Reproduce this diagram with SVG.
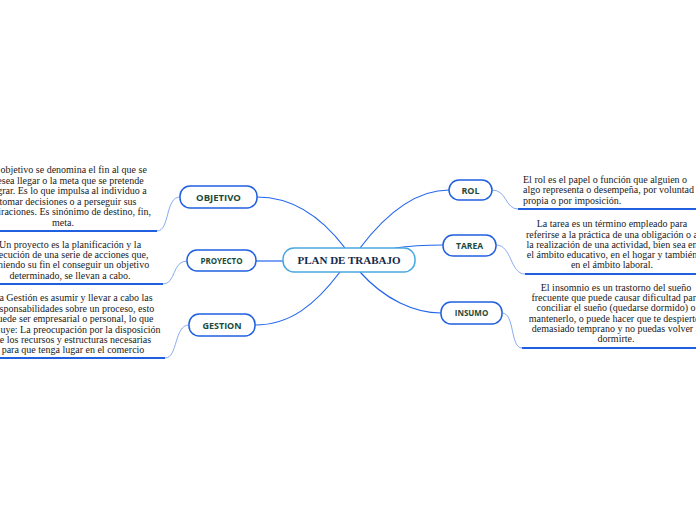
<svg xmlns="http://www.w3.org/2000/svg" width="696" height="520" viewBox="0 0 696 520">
<style>
.n{fill:#fff;stroke:#1f5fe0;stroke-width:1.5}
.nl{font-family:"Open Sans",sans-serif;font-weight:bold;fill:#1d4a3a;text-anchor:middle}
.t{font-family:"Liberation Serif",serif;font-size:10px;fill:#222}
.c{fill:none;stroke:#2266ee;stroke-width:1.2}
.s{fill:none;stroke:#88aaf0;stroke-width:1}
.u{stroke:#1f5fe0;stroke-width:2}
</style>
<rect width="696" height="520" fill="#fff"/>
<g id="connectors">
<path class="c" d="M345 248 C320 215 290 197 257 197"/>
<path class="c" d="M283 261 L256 261"/>
<path class="c" d="M340 272 C315 305 290 325 255 325"/>
<path class="c" d="M360 248 C385 215 415 190 449 190"/>
<path class="c" d="M395 248 C415 245 430 245 443 245"/>
<path class="c" d="M360 272 C385 300 415 313 441 313"/>
<path class="s" d="M180 197 C165 197 170 231 157 231"/>
<path class="s" d="M187 261 C172 261 176 284 163 284"/>
<path class="s" d="M189 325 C174 325 178 358 165 358"/>
<path class="s" d="M492 190 C507 190 505 209 518 209"/>
<path class="s" d="M496 245 C512 245 510 274 525 274"/>
<path class="s" d="M502 313 C515 313 510 348 522 348"/>
<line class="u" x1="0" y1="231" x2="157" y2="231"/>
<line class="u" x1="0" y1="284" x2="163" y2="284"/>
<line class="u" x1="0" y1="358" x2="165" y2="358"/>
<line class="u" x1="518" y1="209" x2="696" y2="209"/>
<line class="u" x1="525" y1="274" x2="696" y2="274"/>
<line class="u" x1="522" y1="348" x2="696" y2="348"/>
</g>
<g id="center"><rect x="283" y="248" width="132" height="24" rx="11" fill="#fff" stroke="#4aa8e0" stroke-width="1.5"/><text x="349" y="264" text-anchor="middle" font-family="Liberation Serif,serif" font-weight="bold" font-size="11" fill="#132a4a">PLAN DE TRABAJO</text></g>
<g id="objetivo"><rect class="n" x="180" y="186" width="77" height="22" rx="10"/><text class="nl" x="218.5" y="201" font-size="9.5">OBJETIVO</text></g>
<g id="proyecto"><rect class="n" x="187" y="250" width="69" height="21" rx="10"/><text class="nl" x="221.5" y="264" font-size="8">PROYECTO</text></g>
<g id="gestion"><rect class="n" x="189" y="314" width="66" height="22" rx="10"/><text class="nl" x="222" y="328.5" font-size="9">GESTION</text></g>
<g id="rol"><rect class="n" x="449" y="180" width="43" height="20" rx="10"/><text class="nl" x="470.5" y="193.5" font-size="9">ROL</text></g>
<g id="tarea"><rect class="n" x="443" y="235" width="53" height="21" rx="10"/><text class="nl" x="469.5" y="248.5" font-size="8.5">TAREA</text></g>
<g id="insumo"><rect class="n" x="441" y="302" width="61" height="22" rx="10"/><text class="nl" x="471.5" y="316" font-size="8">INSUMO</text></g>
<g id="texts">
<text class="t" text-anchor="middle"><tspan x="68" y="173">El objetivo se denomina el fin al que se</tspan><tspan x="68" y="184">desea llegar o la meta que se pretende</tspan><tspan x="68" y="194">lograr. Es lo que impulsa al individuo a</tspan><tspan x="68" y="205">tomar decisiones o a perseguir sus</tspan><tspan x="68" y="215">aspiraciones. Es sinónimo de destino, fin,</tspan><tspan x="63" y="226">meta.</tspan></text>
<text class="t" text-anchor="middle"><tspan x="70" y="248">Un proyecto es la planificación y la</tspan><tspan x="70" y="258">ejecución de una serie de acciones que,</tspan><tspan x="70" y="268">teniendo su fin el conseguir un objetivo</tspan><tspan x="70" y="279">determinado, se llevan a cabo.</tspan></text>
<text class="t" text-anchor="middle"><tspan x="73" y="301">La Gestión es asumir y llevar a cabo las</tspan><tspan x="73" y="312">responsabilidades sobre un proceso, esto</tspan><tspan x="73" y="322">puede ser empresarial o personal, lo que</tspan><tspan x="73" y="333">incluye: La preocupación por la disposición</tspan><tspan x="73" y="343">de los recursos y estructuras necesarias</tspan><tspan x="73" y="353">para que tenga lugar en el comercio</tspan></text>
<text class="t"><tspan x="523" y="183">El rol es el papel o función que alguien o</tspan><tspan x="523" y="193">algo representa o desempeña, por voluntad</tspan><tspan x="523" y="204">propia o por imposición.</tspan></text>
<text class="t" text-anchor="middle"><tspan x="612" y="227">La tarea es un término empleado para</tspan><tspan x="612" y="238">referirse a la práctica de una obligación o a</tspan><tspan x="612" y="248">la realización de una actividad, bien sea en</tspan><tspan x="612" y="258">el ámbito educativo, en el hogar y también</tspan><tspan x="612" y="268">en el ámbito laboral.</tspan></text>
<text class="t" text-anchor="middle"><tspan x="616" y="291">El insomnio es un trastorno del sueño</tspan><tspan x="616" y="301">frecuente que puede causar dificultad para</tspan><tspan x="616" y="311">conciliar el sueño (quedarse dormido) o</tspan><tspan x="616" y="322">mantenerlo, o puede hacer que te despiertes</tspan><tspan x="616" y="332">demasiado temprano y no puedas volver a</tspan><tspan x="616" y="342">dormirte.</tspan></text>
</g>
</svg>
